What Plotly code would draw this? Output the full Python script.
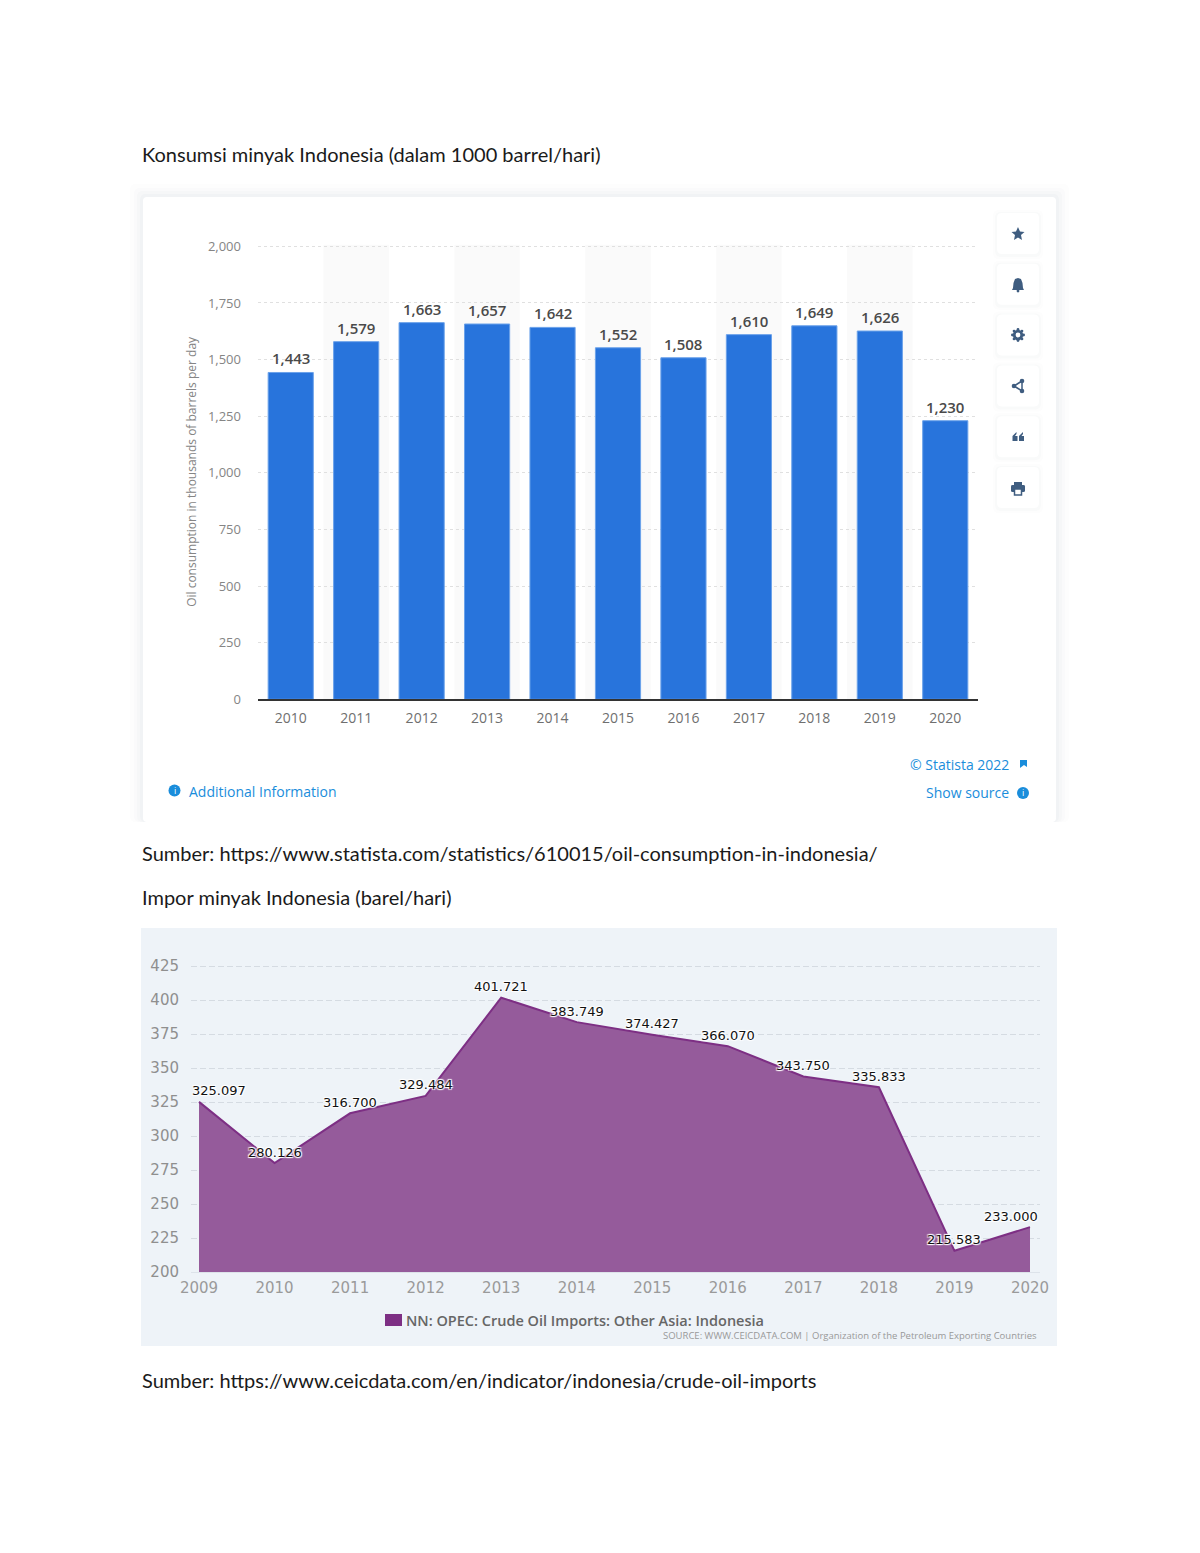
import math
import plotly.graph_objects as go

W = 1200
H = 1553

# consumption chart (statista)
years = [2010, 2011, 2012, 2013, 2014, 2015, 2016, 2017, 2018, 2019, 2020]
consumption = [1443, 1579, 1663, 1657, 1642, 1552, 1508, 1610, 1649, 1626, 1230]
consumption_ticks = [0, 250, 500, 750, 1000, 1250, 1500, 1750, 2000]
shaded_years = [2011, 2013, 2015, 2017, 2019]

# import chart (ceic)
import_years = [2009, 2010, 2011, 2012, 2013, 2014, 2015, 2016, 2017, 2018, 2019, 2020]
imports = [325.097, 280.126, 316.700, 329.484, 401.721, 383.749,
           374.427, 366.070, 343.750, 335.833, 215.583, 233.000]
import_ticks = [200, 225, 250, 275, 300, 325, 350, 375, 400, 425]

BODY_FONT = "Lato, sans-serif"
STATISTA_FONT = "Open Sans, sans-serif"
CEIC_FONT = "DejaVu Sans, sans-serif"
LINK_BLUE = "#1a8ddb"
ICON_BLUE = "#3f5d80"


def px(x):
    return x / W


def py(y):
    return 1 - y / H


def poly(points):
    return "M" + " L".join(f"{px(x):.5f},{py(y):.5f}" for x, y in points) + " Z"


def round_rect(x0, y0, x1, y1, r):
    def p(x, y):
        return f"{px(x):.5f},{py(y):.5f}"
    return (f"M{p(x0 + r, y0)} L{p(x1 - r, y0)} Q{p(x1, y0)} {p(x1, y0 + r)} "
            f"L{p(x1, y1 - r)} Q{p(x1, y1)} {p(x1 - r, y1)} L{p(x0 + r, y1)} "
            f"Q{p(x0, y1)} {p(x0, y1 - r)} L{p(x0, y0 + r)} Q{p(x0, y0)} {p(x0 + r, y0)} Z")


def path_shape(path, fill, line=None, width=0, layer="below"):
    return dict(type="path", xref="paper", yref="paper", path=path, fillcolor=fill,
                line=dict(color=line or fill, width=width), layer=layer)


def circle(cx, cy, r, fill, line=None, width=0):
    return dict(type="circle", xref="paper", yref="paper", x0=px(cx - r), x1=px(cx + r),
                y0=py(cy + r), y1=py(cy - r), fillcolor=fill,
                line=dict(color=line or fill, width=width), layer="above")


def text(x, y, s, size, color, font=BODY_FONT, anchor="left", weight=None):
    return dict(text=s, x=px(x), y=py(y), xref="paper", yref="paper", showarrow=False, borderpad=0,
                xanchor=anchor, yanchor="middle",
                font=dict(family=font, size=size, color=color, weight=weight))


fig = go.Figure()

fig.add_trace(go.Bar(
    x=years, y=consumption,
    marker=dict(color="#2874dc", line=dict(color="#6ba2ea", width=1)),
    width=0.69, xaxis="x", yaxis="y", showlegend=False,
))

fig.add_trace(go.Scatter(
    x=import_years, y=imports, mode="lines", fill="tozeroy",
    fillcolor="#955b9b", line=dict(color="#7d2f84", width=2),
    xaxis="x2", yaxis="y2", showlegend=False,
))

shapes = []

# card shadow and card
for grow, alpha in [(13, 0.012), (9, 0.015), (6, 0.018), (3, 0.022)]:
    shapes.append(path_shape(round_rect(143 - grow, 197 - grow, 1056 + grow, 822, 6),
                             f"rgba(60,80,120,{alpha})"))
shapes.append(path_shape(round_rect(143, 197, 1056, 822, 4), "#ffffff"))

# alternating bands behind the bars
for yr in shaded_years:
    shapes.append(dict(type="rect", xref="x", yref="y", x0=yr - 0.5, x1=yr + 0.5, y0=0, y1=2008,
                       fillcolor="#fafafa", line=dict(width=0), layer="below"))

# side buttons
for i in range(6):
    top = 213 + 50.8 * i
    for grow, alpha in [(4, 0.012), (2, 0.02)]:
        shapes.append(path_shape(round_rect(997 - grow, top - grow + 1, 1039 + grow, top + 41 + grow + 1, 6),
                                 f"rgba(60,80,120,{alpha})"))
    shapes.append(path_shape(round_rect(997, top, 1039, top + 41, 5), "#ffffff"))

# star
shapes.append(path_shape(poly([(1018, 227), (1020, 231.5), (1024.5, 232), (1021, 235), (1022, 240),
                               (1018, 237.5), (1014, 240), (1015, 235), (1011.5, 232), (1016, 231.5)]),
                         ICON_BLUE, layer="above"))
# bell
shapes.append(path_shape(poly([(1018, 278), (1021, 279), (1022.5, 283), (1023, 288), (1024, 290),
                               (1012, 290), (1013, 288), (1013.5, 283), (1015, 279)]),
                         ICON_BLUE, layer="above"))
shapes.append(circle(1018, 291, 1.4, ICON_BLUE))
# gear
for k in range(8):
    a = k * math.pi / 4
    shapes.append(circle(1018 + 5.6 * math.cos(a), 335 + 5.6 * math.sin(a), 1.4, ICON_BLUE))
shapes.append(circle(1018, 335, 5.2, ICON_BLUE))
shapes.append(circle(1018, 335, 2.4, "#ffffff"))
# share
shapes.append(path_shape(poly([(1022, 381), (1014, 386), (1022, 391)]), "rgba(0,0,0,0)", ICON_BLUE, 1.5, "above"))
shapes.append(circle(1022, 381, 2.3, ICON_BLUE))
shapes.append(circle(1014, 386, 2.3, ICON_BLUE))
shapes.append(circle(1022, 391, 2.3, ICON_BLUE))
# quote
for qx in (1012.5, 1019):
    shapes.append(path_shape(poly([(qx + 4, 432), (qx + 4, 434), (qx + 2.5, 436), (qx + 5, 436), (qx + 5, 441),
                                   (qx, 441), (qx, 436)]), ICON_BLUE, layer="above"))
# printer
shapes.append(path_shape(round_rect(1011, 485, 1025, 492, 1.5), ICON_BLUE, layer="above"))
shapes.append(path_shape(poly([(1014, 482), (1022, 482), (1022, 485), (1014, 485)]), ICON_BLUE, layer="above"))
shapes.append(path_shape(poly([(1014.5, 489), (1021.5, 489), (1021.5, 495), (1014.5, 495)]), "#ffffff",
                         ICON_BLUE, 1.5, "above"))

# link icons
shapes.append(circle(174.5, 790.5, 6, LINK_BLUE))
shapes.append(circle(1023, 793, 6, LINK_BLUE))
shapes.append(path_shape(poly([(1020, 760), (1027, 760), (1027, 767), (1024, 765), (1020, 768)]),
                         LINK_BLUE, layer="above"))

# import chart background and legend swatch
shapes.append(dict(type="rect", xref="paper", yref="paper", x0=px(141), x1=px(1057), y0=py(1346), y1=py(928),
                   fillcolor="#eef3f8", line=dict(width=0), layer="below"))
shapes.append(dict(type="rect", xref="paper", yref="paper", x0=px(385), x1=px(402), y0=py(1326), y1=py(1314),
                   fillcolor="#7d2f84", line=dict(width=0), layer="above"))

annotations = [
    text(140.5, 154, "Konsumsi minyak Indonesia (dalam 1000 barrel/hari)", 20, "#1a1a1a"),
    text(140.5, 853, "Sumber: https://www.statista.com/statistics/610015/oil-consumption-in-indonesia/", 20, "#1a1a1a"),
    text(140.5, 897, "Impor minyak Indonesia (barel/hari)", 20, "#1a1a1a"),
    text(140.5, 1380, "Sumber: https://www.ceicdata.com/en/indicator/indonesia/crude-oil-imports", 20, "#1a1a1a"),
    text(188, 791, "Additional Information", 14, LINK_BLUE, STATISTA_FONT),
    text(1010, 764, "© Statista 2022", 14, LINK_BLUE, STATISTA_FONT, anchor="right"),
    text(1010, 793, "Show source", 14, LINK_BLUE, STATISTA_FONT, anchor="right"),
    text(174.5, 790.5, "i", 9, "#ffffff", STATISTA_FONT, anchor="center"),
    text(1023, 793, "i", 9, "#ffffff", STATISTA_FONT, anchor="center"),
    text(405, 1320, "NN: OPEC: Crude Oil Imports: Other Asia: Indonesia", 14.5, "#666666", STATISTA_FONT, weight=600),
    text(1038, 1335, "SOURCE: WWW.CEICDATA.COM | Organization of the Petroleum Exporting Countries", 9.5, "#999999",
         STATISTA_FONT, anchor="right"),
]

# bar value labels
for yr, val in zip(years, consumption):
    annotations.append(dict(
        text=f"{val:,}", x=yr, y=val, xref="x", yref="y", showarrow=False, borderpad=0,
        xanchor="center", yanchor="middle", yshift=14,
        font=dict(family=STATISTA_FONT, size=15, color="#4a4a4a", weight=600),
    ))

# point labels with the white outline, first and last pulled inside the plot
outline = "1px 1px 1px #fff, -1px -1px 1px #fff, 1px -1px 1px #fff, -1px 1px 1px #fff"
for i, (yr, val) in enumerate(zip(import_years, imports)):
    shift = 20 if i == 0 else -19 if i == len(imports) - 1 else 0
    annotations.append(dict(
        text=f"{val:.3f}", x=yr, y=val, xref="x2", yref="y2", showarrow=False,
        xanchor="center", yanchor="middle", xshift=shift, yshift=11,
        font=dict(family=CEIC_FONT, size=13, color="#111111", shadow=outline),
    ))

# ranges run a little past the top tick so that the top gridline gets drawn
fig.update_layout(
    width=W, height=H, margin=dict(l=0, r=0, t=0, b=0, autoexpand=False),
    paper_bgcolor="#ffffff", plot_bgcolor="rgba(0,0,0,0)",
    shapes=shapes, annotations=annotations, showlegend=False, hovermode=False,
    xaxis=dict(domain=[px(258), px(978)], range=[2009.5, 2020.5], tickvals=years, showgrid=False,
               zeroline=False, showline=True, linecolor="#333333", linewidth=2, ticks="", anchor="y",
               ticklabelstandoff=5,
               tickfont=dict(family=STATISTA_FONT, size=14, color="#6f6f6f")),
    yaxis=dict(domain=[py(699.3), py(244.5)], range=[0, 2008], tickvals=consumption_ticks, tickformat=",",
               gridcolor="#e0e0e0", griddash="dot", gridwidth=1, zeroline=False, anchor="x", ticks="",
               ticklabelstandoff=16,
               tickfont=dict(family=STATISTA_FONT, size=13, color="#858585"),
               title=dict(text="Oil consumption in thousands of barrels per day", standoff=8,
                          font=dict(family=STATISTA_FONT, size=12, color="#858585"))),
    xaxis2=dict(domain=[px(191), px(1040)], range=[2009 - 8 / 75.55, 2020 + 10 / 75.55], tickvals=import_years,
                showgrid=False, zeroline=False, showline=True, linecolor="#dde3ea", linewidth=1, ticks="", anchor="y2",
                ticklabelstandoff=2,
                tickfont=dict(family=CEIC_FONT, size=15, color="#9a9a9a")),
    yaxis2=dict(domain=[py(1272), py(965)], range=[200, 425.75], tickvals=import_ticks,
                gridcolor="#d5dbe2", griddash="6px,3px", gridwidth=1, zeroline=False, anchor="x2", ticks="",
                ticklabelstandoff=11,
                tickfont=dict(family=CEIC_FONT, size=15, color="#8f8f8f")),
)

fig.write_html("out.html", config=dict(displayModeBar=False),
               post_script="document.body.style.margin='0';document.body.style.overflow='hidden';")
